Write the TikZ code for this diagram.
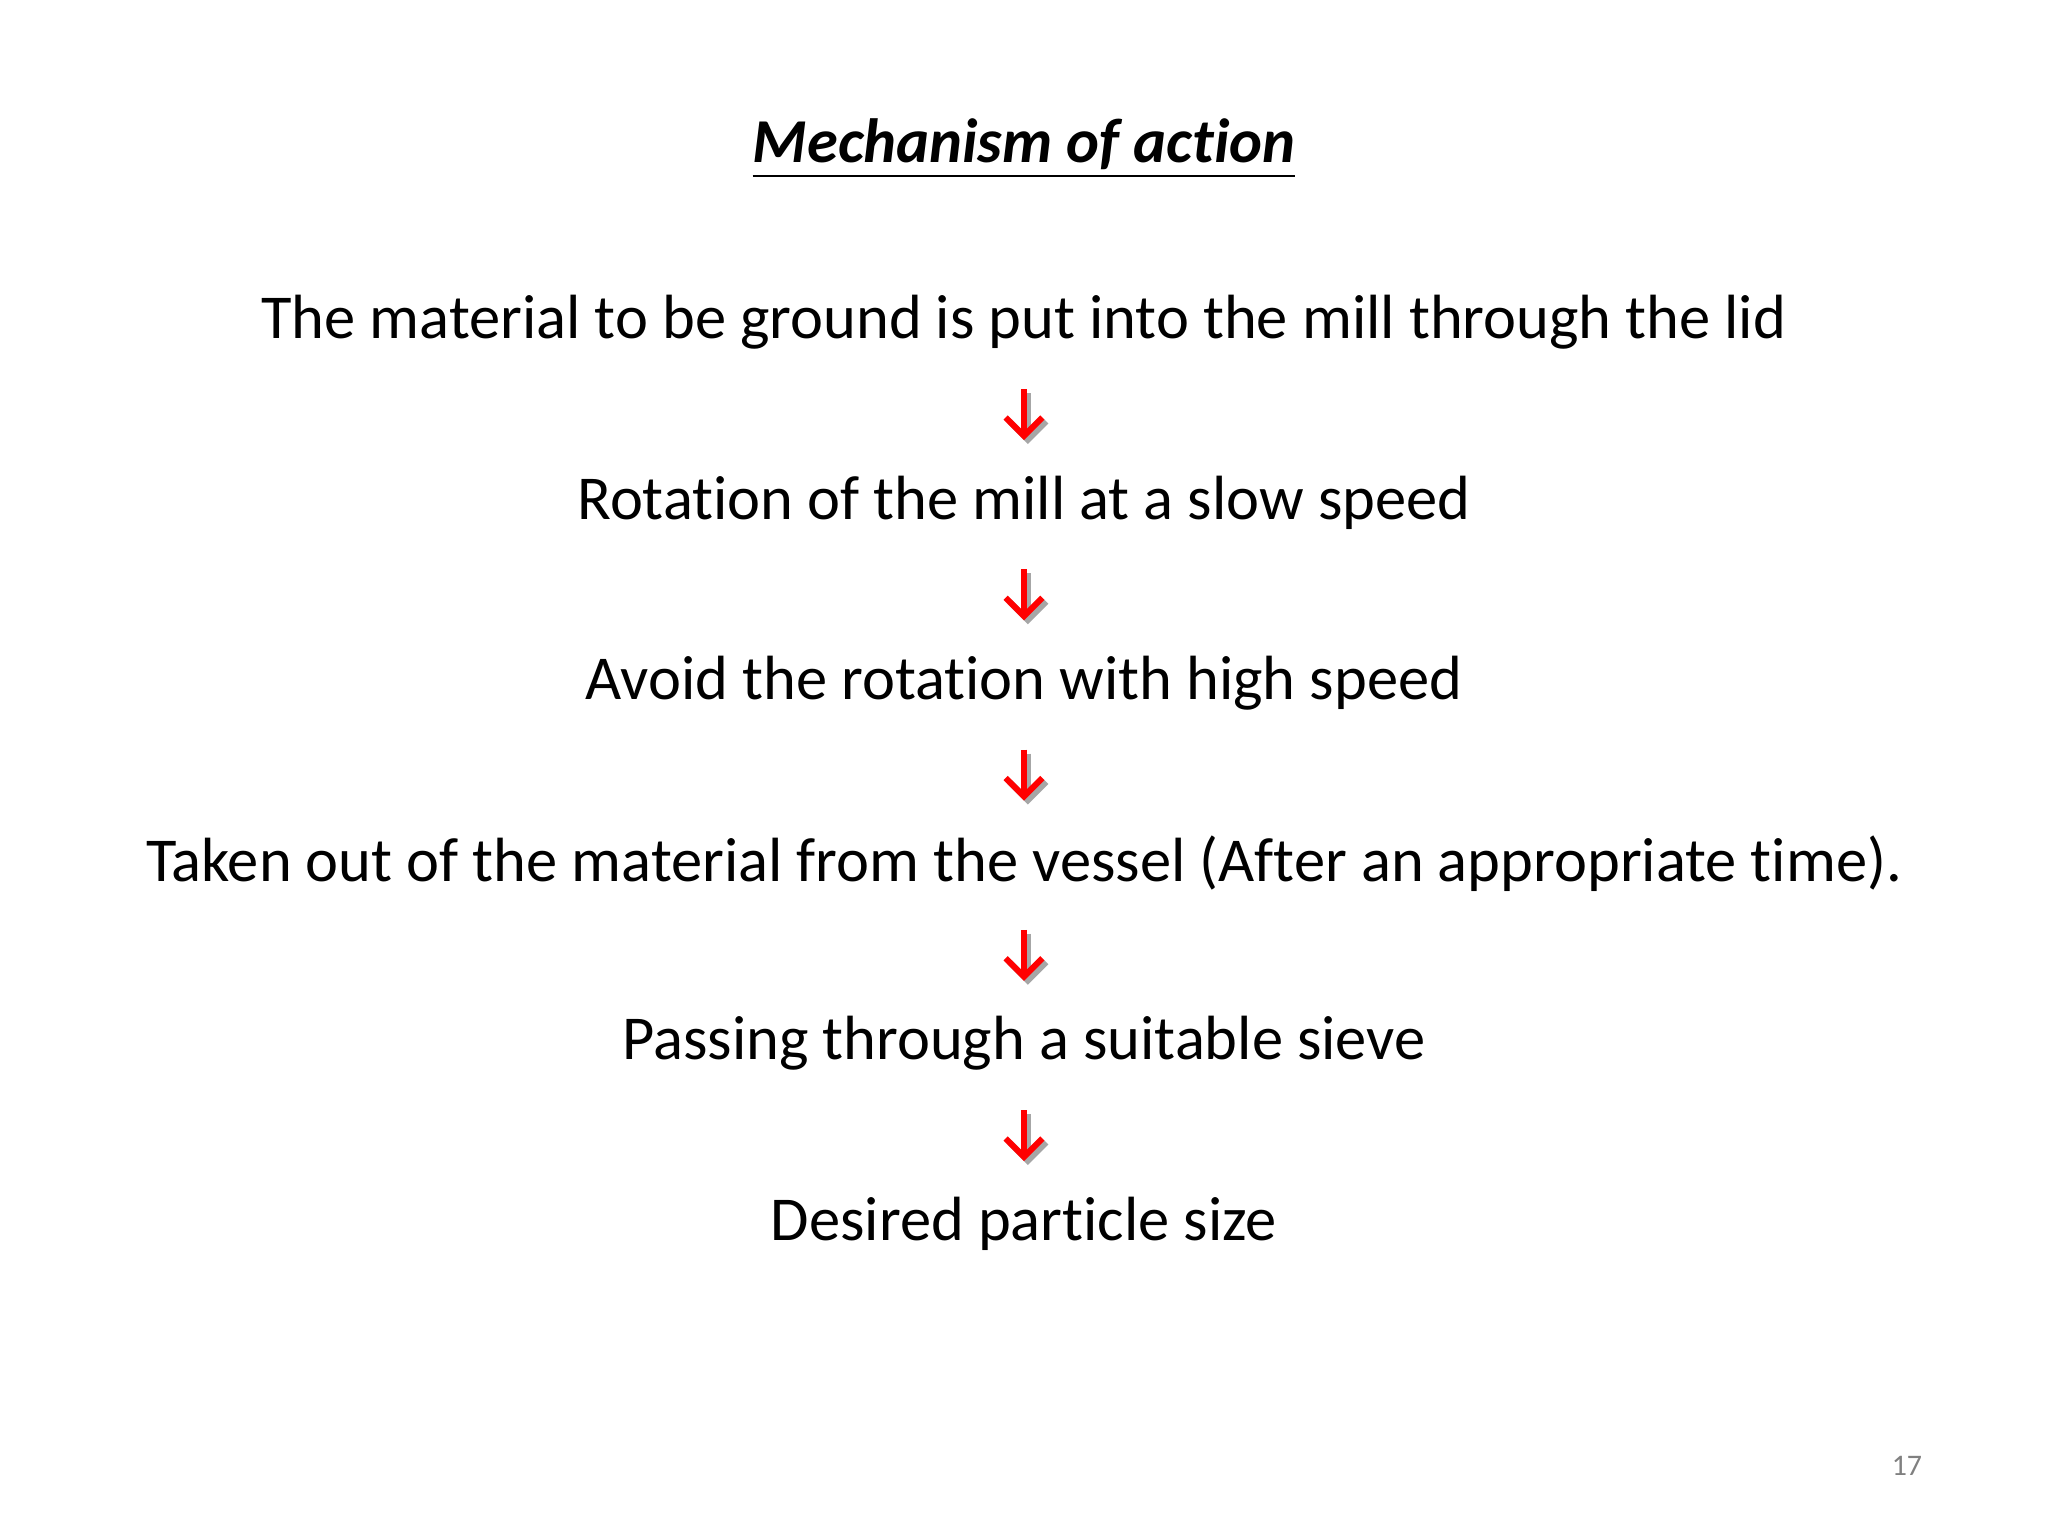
\documentclass[tikz,border=0pt]{standalone}
\usepackage{fontspec}
\setmainfont{Carlito}[Ligatures={NoCommon}]
\usetikzlibrary{arrows.meta}
\begin{document}
\begin{tikzpicture}[x=0.01cm,y=-0.01cm,
  step text/.style={font=\fontsize{13.6pt}{16pt}\selectfont, inner sep=0pt, anchor=center},
  flow arrow/.style={red, line width=1.3pt, -{Straight Barb[length=4pt,width=8pt]}},
  flow shadow/.style={black!35, line width=1.3pt, -{Straight Barb[length=4pt,width=8pt]}}]
\useasboundingbox[fill=white] (0,0) rectangle (1568,1176);
\node[font=\fontsize{13.6pt}{16pt}\selectfont\bfseries\itshape, inner sep=0pt] (title) at (784,114) {\underline{Mechanism of action}};
\foreach \i/\y/\t in {1/247/The material to be ground is put into the mill through the lid,
  2/385/Rotation of the mill at a slow speed,
  3/523/Avoid the rotation with high speed,
  4/661/Taken out of the material from the vessel (After an appropriate time).,
  5/799/Passing through a suitable sieve,
  6/937/Desired particle size}{
  \node[step text] (t\i) at (784,\y) {\t};
}
\foreach \i/\y in {1/247,2/385,3/523,4/661,5/799}{
  \coordinate (s\i) at (784,\y+51);
  \coordinate (e\i) at (784,\y+90);
  \coordinate (ss\i) at (787,\y+54);
  \coordinate (se\i) at (787,\y+93);
  \draw[flow shadow] (ss\i) -- (se\i);
  \draw[flow arrow] (s\i) -- (e\i);
}
\node[font=\fontsize{6.5pt}{8pt}\selectfont, text=black!50, inner sep=0pt] (page) at (1460,1122) {17};
\end{tikzpicture}
\end{document}
